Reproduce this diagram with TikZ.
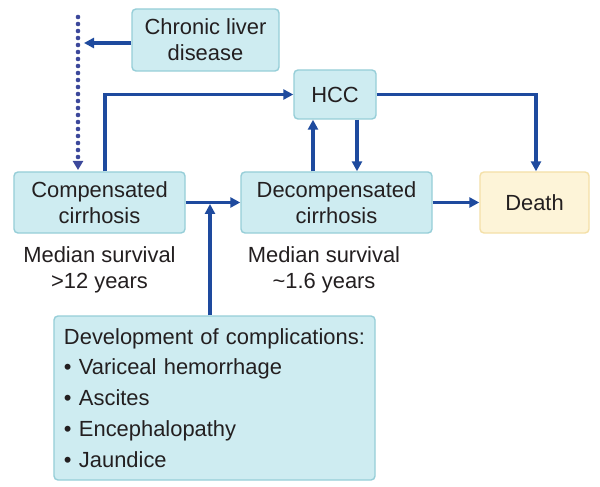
\documentclass[tikz,border=0pt]{standalone}
\usepackage{fontspec}
\setmainfont{Liberation Sans}
\usetikzlibrary{arrows.meta}
\definecolor{boxfill}{RGB}{206,236,241}
\definecolor{boxline}{RGB}{150,206,216}
\definecolor{deathfill}{RGB}{253,244,216}
\definecolor{deathline}{RGB}{244,224,168}
\definecolor{arrowblue}{RGB}{30,74,158}
\definecolor{dotblue}{RGB}{60,72,155}
\definecolor{txt}{RGB}{35,31,32}
\tikzset{
  box/.style={draw=boxline, fill=boxfill, line width=1.4bp, rounded corners=4bp,
    align=center, text=txt, inner sep=0pt, font=\fontsize{22}{26}\selectfont},
  deathbox/.style={box, draw=deathline, fill=deathfill},
  arr/.style={draw=arrowblue, line width=3.2bp, -{Triangle[length=10bp,width=10bp]}},
  dotarr/.style={draw=dotblue, line width=4.6bp, line cap=round, dash pattern=on 0bp off 7bp,
    -{Triangle[length=9bp,width=10bp,line cap=butt]}},
  lbl/.style={text=txt, align=center, font=\fontsize{22}{26}\selectfont},
}
\begin{document}
\begin{tikzpicture}[x=1bp,y=-1bp]
\useasboundingbox (0,0) rectangle (600,487);
\fill[white] (0,0) rectangle (600,487);
\node[box, minimum width=147bp, minimum height=62bp] (cld) at (205.5,40) {Chronic liver\\disease};
\node[box, minimum width=82bp, minimum height=49bp] (hcc) at (335,94.5) {HCC};
\node[box, minimum width=171bp, minimum height=61bp] (comp) at (99.5,202.5) {Compensated\\cirrhosis};
\node[box, minimum width=191bp, minimum height=61bp] (decomp) at (336.5,202.5) {Decompensated\\cirrhosis};
\node[deathbox, minimum width=109bp, minimum height=61bp] (death) at (534.5,202.5) {Death};
\node[lbl] (ms1) at (99.5,270) {Median survival\\>12 years};
\node[lbl] (ms2) at (324,270) {Median survival\\\char126 1.6 years};
\node[box, minimum width=321bp, minimum height=164bp, align=left, inner xsep=10bp,
  text width=301bp, font=\fontsize{22}{31}\selectfont] (compl) at (214.5,398)
  {Development of complications:\\
   \textbullet\ Variceal hemorrhage\\
   \textbullet\ Ascites\\
   \textbullet\ Encephalopathy\\
   \textbullet\ Jaundice};
\coordinate (dtop) at (78,17);
\coordinate (dbot) at (78,170);
\coordinate (dmid) at (84,43);
\coordinate (jn) at (210,204);
\draw[dotarr] (dtop) -- (dbot);
\draw[arr] (cld.west |- dmid) -- (dmid);
\draw[arr] ([xshift=5.5bp]comp.north) |- (hcc.west);
\draw[arr] (comp.east) -- (decomp.west);
\draw[arr] (compl.north -| jn) -- (jn);
\draw[arr] ([xshift=-22bp]decomp.north -| hcc.south) -- ([xshift=-22bp]hcc.south);
\draw[arr] ([xshift=22bp]hcc.south) -- ([xshift=22bp]hcc.south |- decomp.north);
\draw[arr] (hcc.east) -| ([xshift=1.5bp]death.north);
\draw[arr] (decomp.east) -- (death.west);
\end{tikzpicture}
\end{document}
